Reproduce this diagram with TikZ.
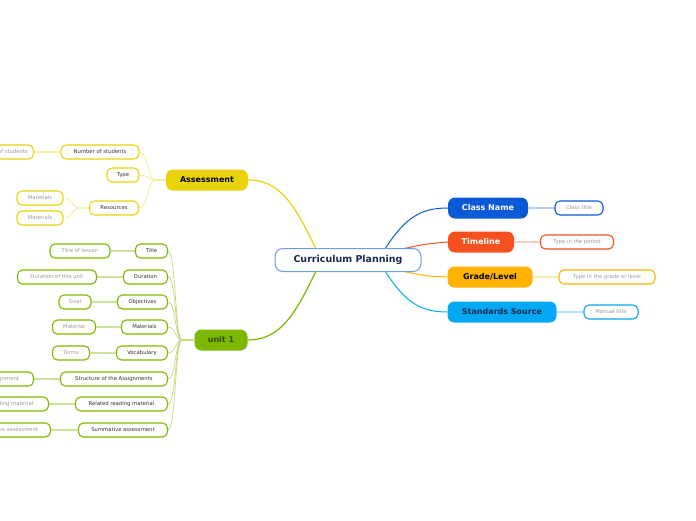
\documentclass[tikz,border=0pt]{standalone}
\usepackage{fontspec}
\setmainfont{DejaVu Sans}
\begin{document}
\definecolor{cblue}{HTML}{0A5AD8}
\definecolor{corange}{HTML}{F4511E}
\definecolor{camber}{HTML}{FFB300}
\definecolor{csky}{HTML}{03A9F4}
\definecolor{cyel}{HTML}{E8D30C}
\definecolor{cgreen}{HTML}{7CB800}
\definecolor{navy}{HTML}{1B2A50}
\begin{tikzpicture}[x=1pt,y=-1pt,
  box/.style={rounded corners=5pt,inner sep=0pt,align=center},
  cat/.style={box,minimum height=21pt,font=\fontsize{8}{9}\selectfont\bfseries,rounded corners=7pt},
  sub/.style={box,draw,line width=1.1pt,fill=white,minimum height=14pt,font=\fontsize{5.3}{6}\selectfont,text=black!80},
  leaf/.style={box,draw,line width=1.1pt,fill=white,minimum height=14pt,font=\fontsize{5.3}{6}\selectfont,text=black!40},
  con/.style={line width=#1},
]
\useasboundingbox (0,0) rectangle (696,520);
% central
\coordinate (c1) at (385,249);
\coordinate (c2) at (402,249);
\coordinate (c3) at (402,271);
\coordinate (c4) at (385,271);
\coordinate (c5) at (316,249);
\coordinate (c6) at (316,271);
% right categories
\node[cat,fill=cblue,text=white,minimum width=80pt] (cn) at (488,208) {Class Name};
\node[cat,fill=corange,text=white,minimum width=66pt] (tl) at (481,242) {Timeline};
\node[cat,fill=camber,text=black,minimum width=85pt] (gl) at (490,277) {Grade/Level};
\node[cat,fill=csky,text=navy,minimum width=109pt] (ss) at (502,312) {Standards Source};
\node[leaf,draw=cblue,minimum width=48pt] (cnl) at (579,208) {Class title};
\node[leaf,draw=corange,minimum width=73pt] (tll) at (577,242) {Type in the period};
\node[leaf,draw=camber,minimum width=96pt] (gll) at (607,277) {Type in the grade or level};
\node[leaf,draw=csky,minimum width=54pt] (ssl) at (611,312) {Manual title};
\draw[cblue,con=1pt] (c1) .. controls (405,218) and (420,208) .. (cn.west);
\draw[corange,con=1pt] (c2) .. controls (425,244) .. (tl.west);
\draw[camber,con=1pt] (c3) .. controls (425,276) .. (gl.west);
\draw[csky,con=1pt] (c4) .. controls (405,302) and (420,312) .. (ss.west);
\draw[cblue!30,con=1.2pt] (cn.east) -- (cnl.west);
\draw[corange!30,con=1.2pt] (tl.east) -- (tll.west);
\draw[camber!30,con=1.2pt] (gl.east) -- (gll.west);
\draw[csky!30,con=1.2pt] (ss.east) -- (ssl.west);
% assessment
\node[cat,fill=cyel,text=black,minimum width=82pt] (as) at (207,180) {Assessment};
\draw[cyel,con=1.2pt] (c5) .. controls (295,205) and (280,180) .. (as.east);
\node[sub,draw=cyel,minimum width=78pt] (ns) at (100,152) {Number of students};
\node[sub,draw=cyel,minimum width=32pt] (ty) at (123,175) {Type};
\node[sub,draw=cyel,minimum width=49pt] (rs) at (114,208) {Resources};
\node[leaf,draw=cyel,minimum width=64pt,anchor=east] (nsl) at (34,152) {Number of students};
\node[leaf,draw=cyel,minimum width=46pt] (m1) at (40,198) {Materials};
\node[leaf,draw=cyel,minimum width=46pt] (m2) at (40,218) {Materials};
\foreach \n in {ns,ty,rs} \draw[cyel!50,con=0.7pt] (as.west) -- (155,180) .. controls (148,180) and (148,180|-\n.east) .. (\n.east);
\draw[cyel!40,con=1.2pt] (ns.west) -- (nsl.east);
\foreach \n in {m1,m2} \draw[cyel!50,con=0.7pt] (rs.west) -- (80,208) .. controls (72,208) and (72,208|-\n.east) .. (\n.east);
% central node drawn over connector starts
\node[box,draw=cblue!60,line width=1pt,fill=white,minimum width=146pt,minimum height=23pt,rounded corners=8pt,font=\fontsize{9.5}{11}\selectfont\bfseries,text=navy] (c) at (348,260) {Curriculum Planning};
% unit 1
\node[cat,fill=cgreen,text=black!60!cgreen,minimum width=53pt] (u) at (221,340) {unit 1};
\draw[cgreen,con=1.2pt] (c6) .. controls (295,315) and (280,340) .. (u.east);
\foreach \n/\t/\w/\y/\lx/\lw/\lt in {
  t/Title/32/251/80/60/Title of lesson,
  d/Duration/44/277/57/79/Duration of this unit,
  o/Objectives/50/302/75/32/Goal,
  m/Materials/46/327/74/43/Material,
  v/Vocabulary/51/353/71/37/Terms}{
  \node[sub,draw=cgreen,minimum width=\w pt,anchor=east] (\n) at (168,\y) {\t};
  \node[leaf,draw=cgreen,minimum width=\lw pt] (\n l) at (\lx,\y) {\lt};
  \draw[cgreen!40,con=1.2pt] (\n.west) -- (\n l.east);
  \draw[cgreen!50,con=0.7pt] (u.west) -- (182,340) .. controls (175,340) and (176,\y) .. (\n.east);
}
\foreach \n/\t/\w/\y/\lx/\lw/\lt in {
  sa/Structure of the Assignments/107/379/34/60/Assignment,
  rr/Related reading material/92/404/49/96/Related reading material,
  sm/Summative assessment/89/430/51/88/Summative assessment}{
  \node[sub,draw=cgreen,minimum width=\w pt,anchor=east] (\n) at (168,\y) {\t};
  \node[leaf,draw=cgreen,minimum width=\lw pt,anchor=east] (\n l) at (\lx,\y) {\lt};
  \draw[cgreen!40,con=1.2pt] (\n.west) -- (\n l.east);
  \draw[cgreen!50,con=0.7pt] (u.west) -- (182,340) .. controls (175,340) and (176,\y) .. (\n.east);
}
\end{tikzpicture}
\end{document}
